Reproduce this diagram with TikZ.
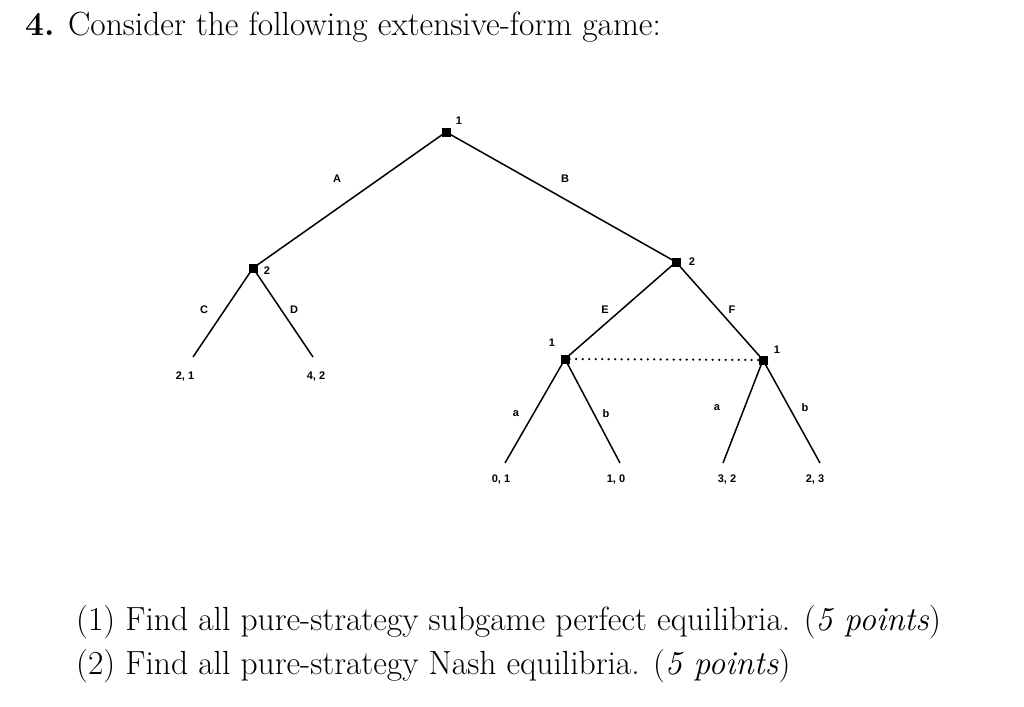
\documentclass[tikz,border=0pt]{standalone}
\usepackage{fontspec}
\newfontfamily\lab{Liberation Sans}
\begin{document}
\begin{tikzpicture}[x=1pt,y=-1pt,
  dec/.style={fill=black,minimum size=9pt,inner sep=0pt,rectangle},
  br/.style={line width=1.5pt},
  lb/.style={font=\lab\bfseries\fontsize{11}{12}\selectfont,inner sep=0pt},
  big/.style={font=\fontsize{33.5}{38}\selectfont,anchor=west,inner sep=0pt}]
\useasboundingbox (0,0) rectangle (1024,706);
\node[big,font=\fontsize{33.5}{38}\selectfont] (t) at (25,27) {\textbf{4.} Consider the following extensive-form game:};
\node[big] (q1) at (76,622) {(1) Find all pure-strategy subgame perfect equilibria. (\textit{5 points})};
\node[big] (q2) at (76,666) {(2) Find all pure-strategy Nash equilibria. (\textit{5 points})};
\node[dec] (r) at (446,132) {};
\node[dec] (l2) at (253,268) {};
\node[dec] (r2) at (676,262) {};
\node[dec] (m1) at (565,359) {};
\node[dec] (n1) at (763,360) {};
\coordinate (lc) at (193,357);
\coordinate (ld) at (313,357);
\coordinate (ma) at (505,463);
\coordinate (mb) at (620,463);
\coordinate (na) at (723,463);
\coordinate (nb) at (820,463);
\draw[br] (r.center)--(l2.center) (r.center)--(r2.center)
 (l2.center)--(lc) (l2.center)--(ld)
 (r2.center)--(m1.center) (r2.center)--(n1.center)
 (m1.center)--(ma) (m1.center)--(mb)
 (n1.center)--(na) (n1.center)--(nb);
\draw[line width=2.5pt,dash pattern=on 0pt off 6.5pt,line cap=round] (m1.east)--(n1.west);
\node[lb] (p1) at (459,121) {1};
\node[lb] (p2) at (267,271) {2};
\node[lb] (p3) at (692,262) {2};
\node[lb] (p4) at (552,343) {1};
\node[lb] (p5) at (777,350) {1};
\node[lb] (A) at (337,179) {A};
\node[lb] (B) at (565,179) {B};
\node[lb] (C) at (204,310) {C};
\node[lb] (D) at (294,310) {D};
\node[lb] (E) at (605,310) {E};
\node[lb] (F) at (732,310) {F};
\node[lb] (a1) at (516,414) {a};
\node[lb] (b1) at (606,414) {b};
\node[lb] (a2) at (717,408) {a};
\node[lb] (b2) at (805,408) {b};
\node[lb] (o1) at (185,377) {2, 1};
\node[lb] (o2) at (316,377) {4, 2};
\node[lb] (o3) at (501,480) {0, 1};
\node[lb] (o4) at (616,480) {1, 0};
\node[lb] (o5) at (727,480) {3, 2};
\node[lb] (o6) at (815,480) {2, 3};
\end{tikzpicture}
\end{document}
